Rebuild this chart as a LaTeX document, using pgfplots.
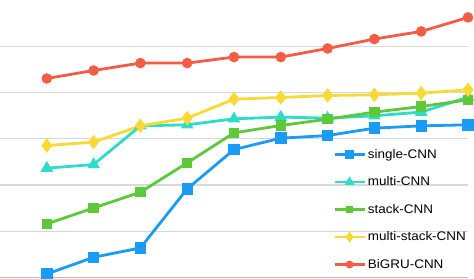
\documentclass[border=0pt]{standalone}
\usepackage{pgfplots}
\pgfplotsset{compat=1.18}
\usepackage{fontspec}
\setmainfont{Liberation Sans}[FakeStretch=1.08]
\definecolor{cblue}{HTML}{1A9BF5}
\definecolor{ccyan}{HTML}{2EDCC8}
\definecolor{cgreen}{HTML}{5DC93A}
\definecolor{cyellow}{HTML}{F8DA36}
\definecolor{cred}{HTML}{F45C45}
\definecolor{cgrid}{HTML}{D8D8D8}
\begin{document}
\begin{tikzpicture}[x=1bp,y=1bp]
\begin{axis}[
  scale only axis,
  width=468bp, height=277.5bp,
  xmin=0, xmax=10, ymin=0, ymax=6,
  clip=false,
  axis y line*=left,
  y axis line style={draw=none},
  axis x line*=bottom,
  x axis line style={draw=cgrid!85!black, line width=1.6bp},
  xtick=\empty,
  ytick={0,1,2,3,4,5},
  yticklabels={},
  major tick length=0pt,
  ymajorgrids=true,
  grid style={cgrid, line width=1.3bp},
  every axis plot/.append style={line width=2.8bp},
  legend cell align=left,
  legend style={draw=none, fill=none, at={(0.7115,0.470)}, anchor=north west,
    font=\fontsize{12.5}{14}\selectfont, row sep=13bp, inner sep=0pt},
  legend image code/.code={\draw[mark repeat=2,mark phase=2,#1] plot coordinates {(0bp,0bp) (15bp,0bp) (30bp,0bp)};},
  legend image post style={mark options={scale=0.65}},
]
\addplot[cblue, mark=square*, mark size=4.3bp, mark options={solid}] coordinates {
(1,0.076) (2,0.437) (3,0.639) (4,1.916) (5,2.766) (6,3.013) (7,3.069) (8,3.229) (9,3.279) (10,3.301)};
\addlegendentry{single-CNN}
\addplot[ccyan, mark=triangle*, mark size=4.5bp] coordinates {
(1,2.364) (2,2.442) (3,3.279) (4,3.301) (5,3.431) (6,3.468) (7,3.446) (8,3.496) (9,3.576) (10,3.900)};
\addlegendentry{multi-CNN}
\addplot[cgreen, mark=square*, mark size=3.8bp] coordinates {
(1,1.158) (2,1.504) (3,1.844) (4,2.478) (5,3.128) (6,3.286) (7,3.424) (8,3.576) (9,3.697) (10,3.842)};
\addlegendentry{stack-CNN}
\addplot[cyellow, mark=diamond*, mark size=5bp] coordinates {
(1,2.853) (2,2.926) (3,3.279) (4,3.446) (5,3.857) (6,3.892) (7,3.935) (8,3.950) (9,3.987) (10,4.058)};
\addlegendentry{multi-stack-CNN}
\addplot[cred, mark=*, mark size=3.8bp] coordinates {
(1,4.303) (2,4.476) (3,4.636) (4,4.636) (5,4.766) (6,4.766) (7,4.952) (8,5.156) (9,5.320) (10,5.623)};
\addlegendentry{BiGRU-CNN}
\coordinate (bl) at (rel axis cs:0,0);
\coordinate (tr) at (rel axis cs:1,1);
\end{axis}
\pgfresetboundingbox
\path[use as bounding box] ([yshift=-1.5bp]bl) rectangle ([xshift=6bp]tr);
\end{tikzpicture}
\end{document}
